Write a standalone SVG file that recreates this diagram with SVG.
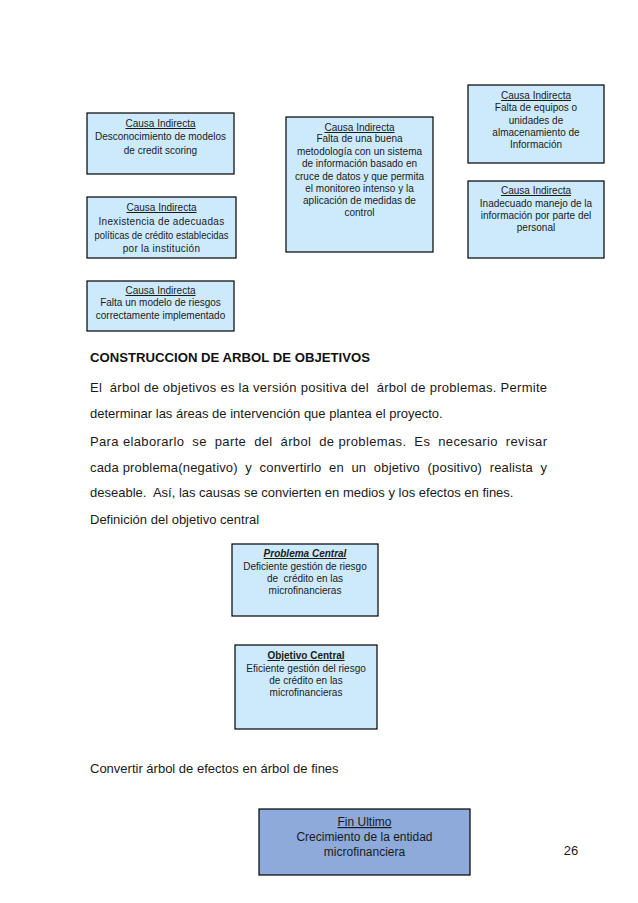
<svg xmlns="http://www.w3.org/2000/svg" width="638" height="903" viewBox="0 0 638 903">
<style>
.box{fill:#cdeafc;stroke:#000;stroke-width:1.2}
.fin{fill:#8eaadb;stroke:#000;stroke-width:1.2}
.bt{font-family:"Liberation Sans",Arial,sans-serif;font-size:10px;fill:#1a1a1a;text-anchor:middle}
.ft{font-family:"Liberation Sans",Arial,sans-serif;font-size:12px;fill:#1a1a1a;text-anchor:middle}
.u{text-decoration:underline}
.p{font-family:"Liberation Sans",Arial,sans-serif;font-size:13px;fill:#1a1a1a;white-space:pre}
.h{font-family:"Liberation Sans",Arial,sans-serif;font-size:13px;font-weight:bold;fill:#111}
</style>
<rect width="638" height="903" fill="#fff"/>
<g id="connectors"/>
<g id="causa1">
<rect class="box" x="87" y="113" width="147" height="61"/>
<text class="bt"><tspan class="u" x="160.5" y="127">Causa Indirecta</tspan><tspan x="160.5" y="140">Desconocimiento de modelos</tspan><tspan x="160.5" y="154">de credit scoring</tspan></text>
</g>
<g id="causa2">
<rect class="box" x="87" y="197" width="149" height="61"/>
<text class="bt"><tspan class="u" x="161.5" y="211">Causa Indirecta</tspan><tspan x="161.5" y="225" style="letter-spacing:0.3px">Inexistencia de adecuadas</tspan><tspan x="161.5" y="239" textLength="134" lengthAdjust="spacingAndGlyphs">políticas de crédito establecidas</tspan><tspan x="161.5" y="252" style="letter-spacing:0.3px">por la institución</tspan></text>
</g>
<g id="causa3">
<rect class="box" x="87" y="281" width="147" height="50"/>
<text class="bt"><tspan class="u" x="160.5" y="294">Causa Indirecta</tspan><tspan x="160.5" y="306">Falta un modelo de riesgos</tspan><tspan x="160.5" y="319">correctamente implementado</tspan></text>
</g>
<g id="causa4">
<rect class="box" x="286" y="117" width="147" height="135"/>
<text class="bt"><tspan class="u" x="359.5" y="131">Causa Indirecta</tspan><tspan x="359.5" y="142">Falta de una buena</tspan><tspan x="359.5" y="155">metodología con un sistema</tspan><tspan x="359.5" y="167">de información basado en</tspan><tspan x="359.5" y="180">cruce de datos y que permita</tspan><tspan x="359.5" y="192">el monitoreo intenso y la</tspan><tspan x="359.5" y="204">aplicación de medidas de</tspan><tspan x="359.5" y="216">control</tspan></text>
</g>
<g id="causa5">
<rect class="box" x="468" y="85" width="136" height="78"/>
<text class="bt"><tspan class="u" x="536" y="99">Causa Indirecta</tspan><tspan x="536" y="111">Falta de equipos o</tspan><tspan x="536" y="124">unidades de</tspan><tspan x="536" y="136">almacenamiento de</tspan><tspan x="536" y="148">Información</tspan></text>
</g>
<g id="causa6">
<rect class="box" x="468" y="181" width="136" height="77"/>
<text class="bt"><tspan class="u" x="536" y="194">Causa Indirecta</tspan><tspan x="536" y="207">Inadecuado manejo de la</tspan><tspan x="536" y="219">información por parte del</tspan><tspan x="536" y="231">personal</tspan></text>
</g>
<g id="texto">
<text class="h" x="90" y="362" textLength="280" lengthAdjust="spacingAndGlyphs">CONSTRUCCION DE ARBOL  DE OBJETIVOS</text>
<text class="p" x="90" y="392" textLength="457" lengthAdjust="spacing">El  árbol de objetivos es la versión positiva del  árbol de problemas. Permite</text>
<text class="p" x="90" y="418">determinar las áreas de intervención que plantea el proyecto.</text>
<text class="p" x="90" y="446" textLength="457" lengthAdjust="spacing">Para elaborarlo  se  parte  del  árbol  de problemas.  Es  necesario  revisar</text>
<text class="p" x="90" y="472" textLength="457" lengthAdjust="spacing">cada problema(negativo)  y  convertirlo  en  un  objetivo  (positivo)  realista  y</text>
<text class="p" x="90" y="497">deseable.  Así, las causas se convierten en medios y los efectos en fines.</text>
<text class="p" x="90" y="524">Definición del objetivo central</text>
<text class="p" x="90" y="773">Convertir árbol de efectos en árbol de fines</text>
<text class="p" x="571" y="855" text-anchor="middle">26</text>
</g>
<g id="problema-central">
<rect class="box" x="232" y="544" width="146" height="72"/>
<text class="bt"><tspan class="u" x="305" y="557" style="font-weight:bold;font-style:italic">Problema Central</tspan><tspan x="305" y="570">Deficiente gestión de riesgo</tspan><tspan x="305" y="582" style="white-space:pre">de  crédito en las</tspan><tspan x="305" y="594">microfinancieras</tspan></text>
</g>
<g id="objetivo-central">
<rect class="box" x="235" y="645" width="142" height="84"/>
<text class="bt"><tspan class="u" x="306" y="659" style="font-weight:bold">Objetivo Central</tspan><tspan x="306" y="672">Eficiente gestión del riesgo</tspan><tspan x="306" y="684">de crédito en las</tspan><tspan x="306" y="696">microfinancieras</tspan></text>
</g>
<g id="fin-ultimo">
<rect class="fin" x="259" y="809" width="211" height="66"/>
<text class="ft"><tspan class="u" x="364.5" y="826">Fin Ultimo</tspan><tspan x="364.5" y="841">Crecimiento de la entidad</tspan><tspan x="364.5" y="856">microfinanciera</tspan></text>
</g>
</svg>
